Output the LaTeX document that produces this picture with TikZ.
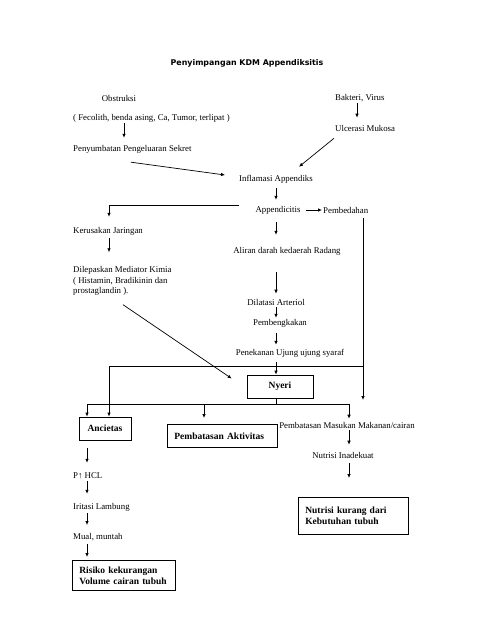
\documentclass[tikz,border=0pt]{standalone}
\usepackage{fontspec}
\setmainfont{Liberation Serif}
\newfontfamily\judulfont{DejaVu Sans}
\usetikzlibrary{arrows.meta,calc}

\begin{document}
\begin{tikzpicture}[x=1pt,y=-1pt,
  txt/.style={inner sep=1pt,font=\fontsize{8.8}{10.5}\selectfont},
  box/.style={draw,line width=0.7pt,inner sep=1pt,font=\fontsize{9.5}{11}\selectfont\bfseries},
  lbox/.style={box,anchor=north west,align=left,inner xsep=7pt},
  arr/.style={-{Latex[length=4pt,width=3.5pt]},line width=0.7pt},
  ln/.style={line width=0.7pt}]
\useasboundingbox (0,0) rectangle (495,640);
\coordinate (cA) at (124,0);
\coordinate (cB) at (357,0);
\coordinate (cM) at (276,0);
\coordinate (cK) at (109,0);
\coordinate (cL) at (87,0);
\coordinate (cP) at (204,0);
\coordinate (cN) at (349,0);
\coordinate (cR) at (363,0);
\coordinate (jR) at (363,366);
\coordinate (jL) at (109,366);
\coordinate (pemend) at (363,400);
\coordinate (bL) at (87,404);
\coordinate (bM) at (276,404);
\coordinate (bR) at (349,404);

\node[font=\judulfont\bfseries\fontsize{7.9}{9}\selectfont] (judul) at (247,63) {Penyimpangan KDM Appendiksitis};
\node[txt] (obs) at (119,98) {Obstruksi};
\node[txt,anchor=west] (fec) at (72,118) {( Fecolith, benda asing, Ca, Tumor, terlipat )};
\node[txt,anchor=west] (peny) at (72,149) {Penyumbatan Pengeluaran Sekret};
\node[txt,anchor=west] (bak) at (334,98) {Bakteri, Virus};
\node[txt,anchor=west] (ulc) at (334,128) {Ulcerasi Mukosa};
\node[txt] (infl) at (276,179) {Inflamasi Appendiks};
\node[txt] (app) at (278,210) {Appendicitis};
\node[txt,anchor=west] (pem) at (322,210) {Pembedahan};
\node[txt,anchor=west] (ker) at (72,231) {Kerusakan Jaringan};
\node[txt] (alir) at (287,251) {Aliran darah kedaerah Radang};
\node[txt,anchor=west,align=left] (med) at (72,281) {Dilepaskan Mediator Kimia\\( Histamin, Bradikinin dan\\prostaglandin ).};
\node[txt] (dila) at (276,302) {Dilatasi Arteriol};
\node[txt] (bengk) at (280,323) {Pembengkakan};
\node[txt] (tekan) at (290,353) {Penekanan Ujung ujung syaraf};
\node[box,minimum width=66pt,minimum height=23pt] (nyeri) at (280,386.5) {Nyeri};
\node[box,minimum width=52pt,minimum height=23pt] (anc) at (105,428.5) {Ancietas};
\node[lbox,text width=96pt,minimum height=23pt] (akt) at (167,424) {Pembatasan Aktivitas};
\node[txt] (mas) at (347,425) {Pembatasan Masukan Makanan/cairan};
\node[txt] (inad) at (343,455) {Nutrisi Inadekuat};
\node[lbox,text width=96pt,minimum height=37pt] (kurang) at (298,497) {Nutrisi kurang dari\\Kebutuhan tubuh};
\node[txt,anchor=west] (hcl) at (72,476) {P↑ HCL};
\node[txt,anchor=west] (irit) at (72,507) {Iritasi Lambung};
\node[txt,anchor=west] (mual) at (72,537) {Mual, muntah};
\node[lbox,text width=89pt,minimum height=30pt] (risiko) at (72,560) {Risiko kekurangan\\Volume cairan tubuh};

\draw[arr,shorten >=6pt] (fec.south -| cA) -- (peny.north -| cA);
\draw[arr,shorten >=6pt] (bak.south -| cB) -- (ulc.north -| cB);
\draw[arr] ($(ulc.south west)+(0,6)$) -- ($(infl.north)+(23,-7)$);
\draw[arr] ($(peny.south west)+(59,8)$) -- ($(infl.west)+(-13,-4)$);
\draw[arr,shorten <=4pt,shorten >=5pt] (infl.south -| cM) -- (app.north -| cM);
\draw[arr,shorten <=4pt] (app.east) -- (pem.west);
\draw[arr,shorten >=9pt] ($(app.west)+(-15,-5)$) -| (ker.north -| cK);
\draw[arr,shorten <=2pt,shorten >=13pt] (ker.south -| cK) -- (med.north -| cK);
\draw[arr,shorten <=7pt,shorten >=11pt] (app.south -| cM) -- (alir.north -| cM);
\draw[arr,shorten <=16pt,shorten >=4pt] (alir.south -| cM) -- (dila.north -| cM);
\draw[arr,shorten <=1pt] (dila.south -| cM) -- (bengk.north -| cM);
\draw[arr,shorten <=5pt,shorten >=3pt] (bengk.south -| cM) -- (tekan.north -| cM);
\draw[arr,shorten <=4pt] (tekan.south -| cM) -- (nyeri.north -| cM);
\draw[arr,shorten <=4pt] (pem.south -| cR) -- (pemend);
\draw[arr] (jR) -- (jL) -- (anc.north -| cK);
\draw[arr] ($(med.south west)+(51,8)$) -- ($(nyeri.west)+(-15,-8)$);
\draw[ln] (nyeri.south -| cM) -- (bM);
\draw[ln] (bL) -- (bR);
\draw[arr] (bL) -- (anc.north -| cL);
\draw[arr,shorten >=6pt] (bM -| cP) -- (akt.north -| cP);
\draw[arr,shorten >=2pt] (bR) -- (mas.north -| cN);
\draw[arr,shorten <=8pt,shorten >=9pt] (anc.south -| cL) -- (hcl.north -| cL);
\draw[arr,shorten <=1pt,shorten >=8pt] (hcl.south -| cL) -- (irit.north -| cL);
\draw[arr,shorten <=1pt,shorten >=7pt] (irit.south -| cL) -- (mual.north -| cL);
\draw[arr,shorten <=2pt,shorten >=3pt] (mual.south -| cL) -- (risiko.north -| cL);
\draw[arr,shorten <=1pt,shorten >=6pt] (mas.south -| cN) -- (inad.north -| cN);
\draw[arr,shorten <=4pt,shorten >=19pt] (inad.south -| cN) -- (kurang.north -| cN);
\end{tikzpicture}
\end{document}
